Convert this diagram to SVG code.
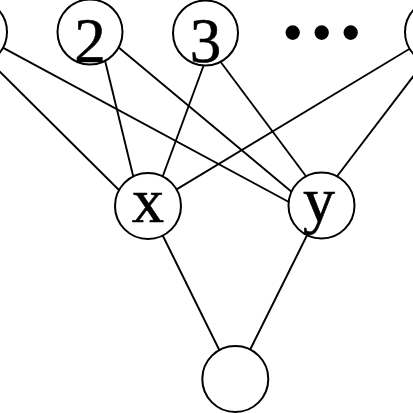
<svg xmlns="http://www.w3.org/2000/svg" width="413" height="413" viewBox="0 0 413 413">
<style>
.e{stroke:#000;stroke-width:1.9;fill:none;stroke-linecap:butt}
.n circle{fill:#fff;stroke:#000;stroke-width:2}
.t{font-family:"Liberation Serif","Times New Roman",serif;fill:#000;text-anchor:middle;stroke:#000;stroke-width:0.6}
</style>
<rect width="413" height="413" fill="#fff"/>
<g id="connectors">
<line class="e" x1="-10" y1="62" x2="125" y2="196"/>
<line class="e" x1="-10" y1="40.8" x2="300" y2="208"/>
<line class="e" x1="100" y1="40" x2="139" y2="200"/>
<line class="e" x1="110" y1="40.3" x2="305" y2="203"/>
<line class="e" x1="213" y1="40" x2="154" y2="200"/>
<line class="e" x1="208" y1="45" x2="320" y2="195"/>
<line class="e" x1="430" y1="36.5" x2="165" y2="196.4"/>
<line class="e" x1="425.7" y1="60" x2="322.8" y2="195"/>
<line class="e" x1="152.6" y1="215" x2="226.7" y2="365"/>
<line class="e" x1="317.1" y1="215" x2="242.5" y2="365"/>
</g>
<g id="node1" class="n"><circle cx="-26" cy="32" r="33"/></g>
<g id="node2" class="n"><circle cx="90" cy="32" r="32.5"/><text class="t" x="90" y="62" font-size="63">2</text></g>
<g id="node3" class="n"><circle cx="205.5" cy="33" r="32.5"/><text class="t" x="205.5" y="62" font-size="63">3</text></g>
<g id="dots"><text class="t" x="292.7 321.7 350.7" y="50.5" font-size="54" style="stroke-width:1.5">•••</text></g>
<g id="node4" class="n"><circle cx="438" cy="32" r="33"/></g>
<g id="nodeX" class="n"><circle cx="148" cy="206" r="33"/><text class="t" x="148" y="221.5" font-size="64">x</text></g>
<g id="nodeY" class="n"><circle cx="321.5" cy="205.5" r="33"/><text class="t" x="319" y="220.5" font-size="64">y</text></g>
<g id="nodeB" class="n"><circle cx="235.3" cy="379" r="33"/></g>
</svg>
